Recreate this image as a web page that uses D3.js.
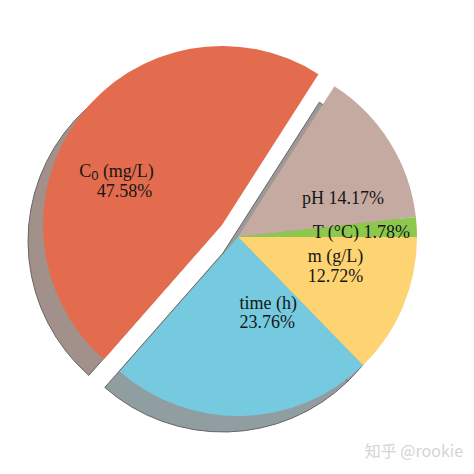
<!DOCTYPE html>
<html>
<head>
<meta charset="utf-8">
<script src="https://cdn.jsdelivr.net/npm/d3@7"></script>
<style>
  html, body { margin: 0; padding: 0; background: #fff; }
  svg { display: block; }
</style>
</head>
<body>
<div id="pieChart"></div>
<script>
// data (clockwise from 3 o'clock)
const categories = ["m (g/L)", "time (h)", "C0 (mg/L)", "pH", "T (°C)"];
const shares = [12.72, 23.76, 47.58, 14.17, 1.78];
const colors = ["#fed372", "#76cadf", "#e46c4e", "#c5aaa1", "#8cc84e"];
const exploded = ["C0 (mg/L)"];

const width = 474;
const height = 474;
const cx = 238, cy = 237;
const radius = 179;
const explodeDist = 20;
const shadowDx = -15, shadowDy = 16;

const svg = d3.select("#pieChart")
  .append("svg")
  .attr("width", width)
  .attr("height", height);

const data = categories.map((c, i) => ({ name: c, value: shares[i], color: colors[i] }));

const pie = d3.pie()
  .sort(null)
  .value(d => d.value)
  .startAngle(Math.PI / 2)
  .endAngle(Math.PI / 2 + 2 * Math.PI);

const arc = d3.arc().innerRadius(0).outerRadius(radius);
const arcs = pie(data);

// offset for exploded slice
const offset = d => {
  if (!exploded.includes(d.data.name)) return [0, 0];
  const a = (d.startAngle + d.endAngle) / 2;
  return [Math.sin(a) * explodeDist, -Math.cos(a) * explodeDist];
};

const chart = svg.append("g")
  .attr("transform", `translate(${cx}, ${cy})`);

// shadows first
chart.append("g")
  .selectAll("path")
  .data(arcs)
  .join("path")
  .attr("d", arc)
  .attr("transform", d => {
    const [ox, oy] = offset(d);
    return `translate(${ox + shadowDx}, ${oy + shadowDy})`;
  })
  .attr("fill", d => d3.interpolateRgb(d.data.color, "#969696")(0.85))
  .attr("stroke", "#666")
  .attr("stroke-width", 1);

// slices
chart.append("g")
  .selectAll("path")
  .data(arcs)
  .join("path")
  .attr("d", arc)
  .attr("transform", d => {
    const [ox, oy] = offset(d);
    return `translate(${ox}, ${oy})`;
  })
  .attr("fill", d => d.data.color);

// labels: lines + nudges from the centroid
const labelLines = {
  "m (g/L)": [["m (g/L)"], ["12.72%"]],
  "time (h)": [["time (h)"], ["23.76%"]],
  "C0 (mg/L)": [["C", "0", " (mg/L)"], ["47.58%"]],
  "pH": [["pH 14.17%"]],
  "T (°C)": [["T (°C) 1.78%"]]
};
const labelNudge = {
  "m (g/L)": [15, -6, [0, 0]],
  "time (h)": [29, -14, [-1, -2]],
  "C0 (mg/L)": [-26, 10, [-8, 0]],
  "pH": [29, 8, [0]],
  "T (°C)": [34, 0, [0]]
};

const labels = chart.append("g")
  .attr("font-family", "'Liberation Serif', 'Times New Roman', serif")
  .attr("font-size", "18px")
  .attr("fill", "#161616")
  .attr("text-anchor", "middle");

arcs.forEach(d => {
  const [ox, oy] = offset(d);
  const [x0, y0] = arc.centroid(d);
  const [nx, ny, lineDx] = labelNudge[d.data.name];
  const lines = labelLines[d.data.name];
  const lh = 19.5;
  const top = y0 + oy + ny - (lines.length - 1) * lh / 2 + 6;
  lines.forEach((parts, i) => {
    const t = labels.append("text")
      .attr("x", x0 + ox + nx + lineDx[i])
      .attr("y", top + i * lh);
    if (parts.length === 1) {
      t.text(parts[0]);
    } else {
      t.append("tspan").text(parts[0]);
      t.append("tspan").attr("font-size", "13px").attr("dy", 3).attr("font-family", "'Liberation Sans', sans-serif").text(parts[1]);
      t.append("tspan").attr("dy", -3).text(parts[2]);
    }
  });
});

// watermark
svg.append("text")
  .attr("x", 463)
  .attr("y", 457)
  .attr("text-anchor", "end")
  .attr("font-family", "'Noto Sans CJK SC', 'Noto Sans', sans-serif")
  .attr("font-size", "16px")
  .attr("fill", "#d4d4d4")
  .text("知乎 @rookie");
</script>
</body>
</html>
